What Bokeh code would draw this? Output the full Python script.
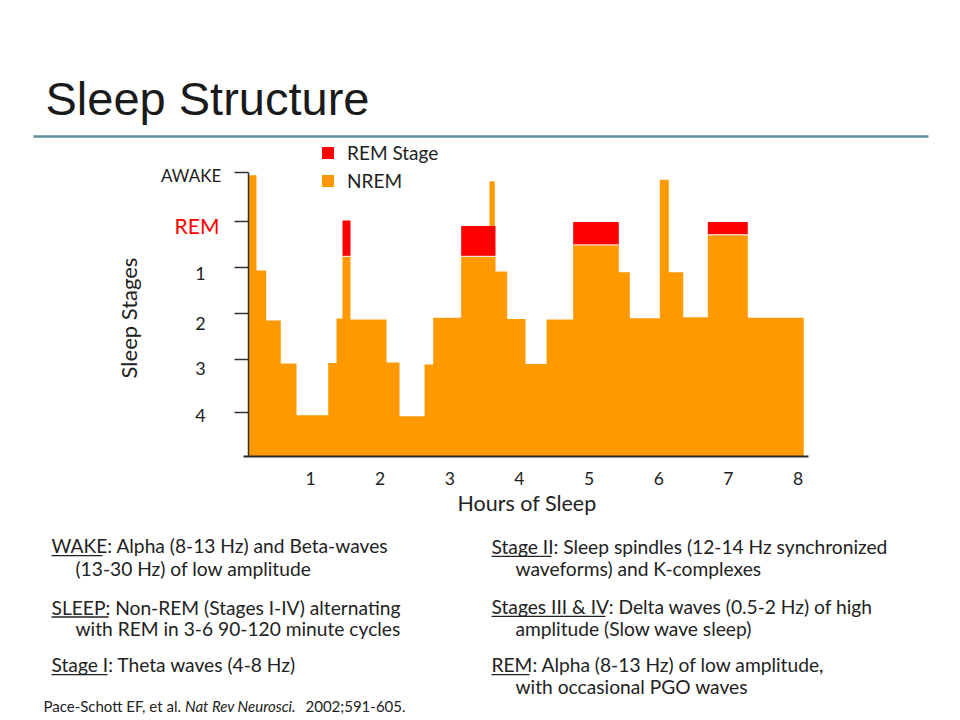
import numpy as np
from bokeh.plotting import figure
from bokeh.layouts import column
from bokeh.core.properties import value
from bokeh.models import (Range1d, FixedTicker, Label, LabelSet, ColumnDataSource,
                          Legend, LegendItem, Title)
from bokeh.embed import file_html
from bokeh.resources import INLINE

# ---- hypnogram data -------------------------------------------------------
# start of each epoch (hours after sleep onset) and the depth of the trace
epoch_start = [0.11, 0.225, 0.365, 0.574, 0.800, 1.255, 1.374, 1.460, 1.575,
               2.092, 2.279, 2.638, 2.762, 3.164, 3.657, 3.825, 4.088, 4.390,
               4.772, 5.427, 5.585, 6.016, 6.145, 6.352, 6.705, 7.279]
sleep_end = 8.083
nrem_level = [6.14, 4.06, 2.97, 2.03, 0.90, 2.04, 3.01, 4.37, 2.99,
              2.05, 0.88, 2.01, 3.03, 4.37, 4.04, 3.00, 2.02, 2.99,
              4.62, 4.02, 3.02, 6.04, 4.02, 3.04, 4.84, 3.03]

# REM periods sit on top of the trace
rem_start = [1.460, 3.164, 4.772, 6.705]
rem_end = [1.575, 3.657, 5.427, 7.279]
rem_base = [4.37, 4.37, 4.62, 4.84]
rem_top = [5.15, 5.03, 5.12, 5.12]

# brief awakening at the end of the second REM period
arousal_start = [3.571]
arousal_end = [3.647]
arousal_base = [5.03]
arousal_top = [6.01]

# axes
stage_names = ["AWAKE", "REM", "1", "2", "3", "4"]
stage_ticks = [6.2, 5.13, 4.13, 3.12, 2.12, 0.97]
hour_ticks = [1, 2, 3, 4, 5, 6, 7, 8]
hour_labels = ["1", "2", "3", "4", "5", "6", "7", "8"]

# slide text
title_text = "Sleep Structure"
x_title = "Hours of Sleep"
y_title = "Sleep Stages"
left_notes = [
    ("WAKE", ": Alpha (8-13 Hz) and Beta-waves", "(13-30 Hz) of low amplitude"),
    ("SLEEP", ": Non-REM (Stages I-IV) alternating", "with REM in 3-6 90-120 minute cycles"),
    ("Stage I", ": Theta waves (4-8 Hz)", None),
]
right_notes = [
    ("Stage II", ": Sleep spindles (12-14 Hz synchronized", "waveforms) and K-complexes"),
    ("Stages III & IV", ": Delta waves (0.5-2 Hz) of high", "amplitude (Slow wave sleep)"),
    ("REM", ": Alpha (8-13 Hz) of low amplitude,", "with occasional PGO waves"),
]
citation = ("Pace-Schott EF, et al.", "Nat Rev Neurosci.", "2002;591-605.")

# ---- styling / layout -----------------------------------------------------
W = 960
TOP_H = 528                  # chart part of the slide
NOTE_H = 720 - TOP_H         # text part of the slide
FL, FB = 30, 456             # plot frame left / bottom on the canvas
AX_X, AX_TOP = 248, 171.7    # where the stage axis sits
PX_PER_H, PX_PER_STAGE = 69.65, 45.806
HOUR0_PX = 240.3
ORANGE, RED = "#ff9900", "#ff0000"
INK = "#222222"
FONT = "Lato"
BODY_PX = 19.2


def sx(px):
    return px - FL


def sy(py):
    return FB - py


x_lo = (FL - HOUR0_PX) / PX_PER_H
x_hi = (W - HOUR0_PX) / PX_PER_H
y_hi = FB / PX_PER_STAGE

p = figure(width=W, height=TOP_H, x_range=Range1d(x_lo, x_hi), y_range=Range1d(0, y_hi),
           output_backend="svg", toolbar_location=None,
           min_border_left=FL, min_border_right=0,
           min_border_top=0, min_border_bottom=TOP_H - FB,
           background_fill_color="white", border_fill_color="white",
           outline_line_color=None)
p.grid.visible = False

# NREM trace as a stepped area
edges = np.array(epoch_start + [sleep_end])
xs = np.repeat(edges, 2)[1:-1]
ys = np.repeat(np.array(nrem_level), 2)
nrem_r = p.varea(x=xs, y1=np.zeros_like(ys), y2=ys, fill_color=ORANGE)

rem_r = p.quad(left=rem_start, right=rem_end, bottom=rem_base, top=rem_top,
               fill_color=RED, line_color=None)
p.segment(x0=rem_start, x1=rem_end, y0=rem_base, y1=rem_base,
          line_color="white", line_width=1)
p.quad(left=arousal_start, right=arousal_end, bottom=arousal_base, top=arousal_top,
       fill_color=ORANGE, line_color=None)

# y axis pinned at the start of the night, labels drawn separately
axis_hour = (AX_X - HOUR0_PX) / PX_PER_H
p.yaxis.fixed_location = axis_hour
p.yaxis.bounds = (0, (FB - AX_TOP) / PX_PER_STAGE)
p.yaxis.ticker = FixedTicker(ticks=stage_ticks)
p.yaxis.major_label_overrides = {t: "" for t in stage_ticks}
p.yaxis.major_label_standoff = 0
p.yaxis.major_tick_out = 14
p.yaxis.major_tick_in = 0
p.yaxis.minor_tick_line_color = None
p.yaxis.major_tick_line_color = "#333333"
p.yaxis.major_tick_line_width = 1.3
p.yaxis.axis_line_color = "#333333"
p.yaxis.axis_line_width = 1.5

# x axis
p.xaxis.bounds = ((243 - HOUR0_PX) / PX_PER_H, 8.15)
p.xaxis.ticker = FixedTicker(ticks=hour_ticks)
p.xaxis.major_label_overrides = dict(zip(hour_ticks, hour_labels))
p.xaxis.major_tick_line_color = None
p.xaxis.minor_tick_line_color = None
p.xaxis.major_tick_out = 0
p.xaxis.major_label_standoff = 15
p.xaxis.major_label_text_font = FONT
p.xaxis.major_label_text_font_size = "17.5px"
p.xaxis.major_label_text_color = INK
p.xaxis.axis_line_color = "#2a2a2a"
p.xaxis.axis_line_width = 2

# hour axis title, placed under the drawn part of the axis
p.add_layout(Title(text=x_title, align="left", offset=427, standoff=0,
                   text_font=FONT, text_font_size="21.5px", text_font_style="normal",
                   text_color=INK), "below")

# stage labels beside the y ticks
stage_src = ColumnDataSource(dict(
    y=stage_ticks,
    text=stage_names,
    x=[sx(190.7), sx(196.5), sx(200), sx(200), sx(200), sx(200)],
    dy=[-2.6, -4, -6, -10, -9, -3.3],
    color=[INK, RED, INK, INK, INK, INK],
    size=["17px", "21px", "18px", "18px", "18px", "18px"],
))
p.add_layout(LabelSet(x="x", y="y", text="text", source=stage_src,
                      x_units="screen", y_units="data", y_offset="dy",
                      text_align="center", text_baseline="middle",
                      text_color="color", text_font_size="size",
                      text_font=value(FONT)))
p.add_layout(Label(text=y_title, x=sx(128), y=sy(317.5), x_units="screen",
                   y_units="screen", angle=np.pi / 2, text_align="center",
                   text_baseline="middle", text_font=FONT, text_font_size="22px",
                   text_color=INK))

# legend above the plot area
legend = Legend(items=[LegendItem(label="REM Stage", renderers=[rem_r]),
                       LegendItem(label="NREM", renderers=[nrem_r])],
                location=(sx(320), sy(191.7)), orientation="vertical",
                glyph_width=15, glyph_height=15, label_height=15,
                spacing=5, padding=0, margin=0, label_standoff=12,
                label_text_font=FONT, label_text_font_size="19px",
                label_text_color=INK, border_line_color=None,
                background_fill_alpha=0)
p.add_layout(legend)

# slide title and rule
p.add_layout(Label(text=title_text, x=sx(45), y=sy(114 - 0.3465 * 47), x_units="screen",
                   y_units="screen", text_font="Liberation Sans", text_font_size="47px",
                   text_color="#1a1a1a", text_baseline="middle"))
rule_x = np.array([33, 928]) * 1.0
p.line(x=(rule_x - HOUR0_PX) / PX_PER_H, y=[(FB - 136) / PX_PER_STAGE] * 2,
       line_color="#5a8f9c", line_width=2.5)

# ---- notes below the chart (canvas pixel coordinates) ----------------------
q = figure(width=W, height=NOTE_H, x_range=Range1d(FL, W), y_range=Range1d(720, TOP_H),
           output_backend="svg", toolbar_location=None,
           x_axis_location=None, y_axis_location=None,
           min_border=0, min_border_left=FL,
           background_fill_color="white", border_fill_color="white",
           outline_line_color=None)
q.grid.visible = False


def text_at(x, baseline, text, size, style="normal", align="left"):
    q.add_layout(Label(text=text, x=x, y=baseline - 0.387 * size, text_font=FONT,
                       text_font_size=f"{size}px", text_font_style=style,
                       text_color=INK, text_baseline="middle", text_align=align))


def note_block(notes, x0, indent, baselines, ul_widths):
    k = 0
    ul_x0, ul_x1, ul_y = [], [], []
    for (head, rest, second), ulw in zip(notes, ul_widths):
        text_at(x0, baselines[k], head + rest, BODY_PX)
        ul_x0.append(x0)
        ul_x1.append(x0 + ulw)
        ul_y.append(baselines[k] + 2.5)
        k += 1
        if second:
            text_at(indent, baselines[k], second, BODY_PX)
            k += 1
    q.segment(x0=ul_x0, x1=ul_x1, y0=ul_y, y1=ul_y, line_color=INK, line_width=1.3)


note_block(left_notes, 51, 75, [552.7, 575.5, 614, 635, 671.7], [51, 57, 56])
note_block(right_notes, 491, 515, [553.3, 575, 613.3, 635, 671.7, 693.3], [60, 114, 38])

# reference line at the foot of the slide
for part, style, xpos in zip(citation, ["normal", "italic", "normal"], [43, 184.5, 305]):
    text_at(xpos, 711.5, part, 15, style=style)

layout = column(p, q, spacing=0)
open("out.html", "w").write(file_html(layout, INLINE))
